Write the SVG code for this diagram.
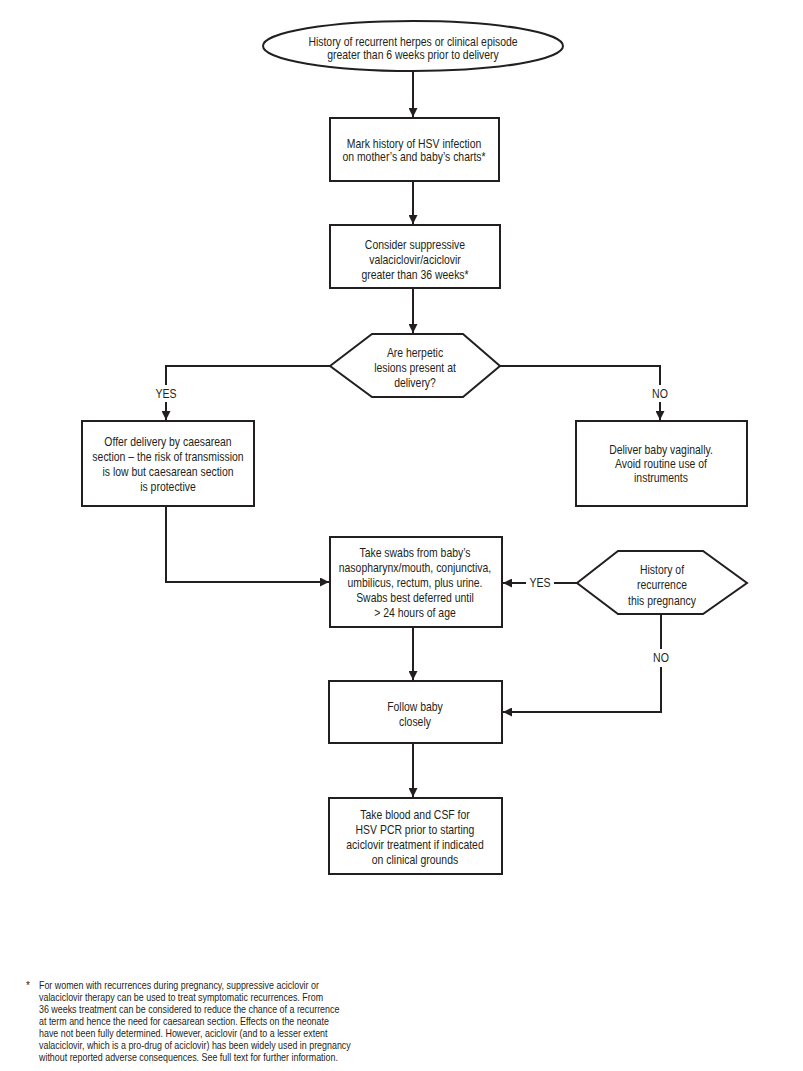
<svg xmlns="http://www.w3.org/2000/svg" width="803" height="1071" viewBox="0 0 803 1071">
<style>
.n{fill:#fff;stroke:#231f20;stroke-width:2}
.c{fill:none;stroke:#231f20;stroke-width:2}
text{font-family:"Liberation Sans",Arial,sans-serif;font-size:12px;fill:#231f20;text-anchor:middle}
.f{font-size:10px;text-anchor:start}
</style>
<defs>
<marker id="ah" markerUnits="userSpaceOnUse" markerWidth="10" markerHeight="9" refX="9" refY="4.5" orient="auto">
<path d="M0,0 L9,4.5 L0,9 z" fill="#231f20"/>
</marker>
</defs>
<rect width="803" height="1071" fill="#fff"/>
<g id="connectors">
<line class="c" x1="413" y1="71" x2="413" y2="117" marker-end="url(#ah)"/>
<line class="c" x1="413" y1="182" x2="413" y2="224" marker-end="url(#ah)"/>
<line class="c" x1="413" y1="289" x2="413" y2="333" marker-end="url(#ah)"/>
<path class="c" d="M330,366 H166 V385"/>
<line class="c" x1="166" y1="402" x2="166" y2="420" marker-end="url(#ah)"/>
<path class="c" d="M500,366 H660 V385"/>
<line class="c" x1="660" y1="402" x2="660" y2="420" marker-end="url(#ah)"/>
<path class="c" d="M166,507 V582 H329" marker-end="url(#ah)"/>
<line class="c" x1="577" y1="583" x2="554" y2="583"/>
<line class="c" x1="526" y1="583" x2="503" y2="583" marker-end="url(#ah)"/>
<path class="c" d="M661,614 V649"/>
<path class="c" d="M661,667 V712 H503" marker-end="url(#ah)"/>
<line class="c" x1="413" y1="628" x2="413" y2="680" marker-end="url(#ah)"/>
<line class="c" x1="413" y1="744" x2="413" y2="797" marker-end="url(#ah)"/>
<g transform="translate(166,0) scale(0.88,1)"><text x="0" y="398">YES</text></g>
<g transform="translate(660,0) scale(0.88,1)"><text x="0" y="398">NO</text></g>
<g transform="translate(540,0) scale(0.88,1)"><text x="0" y="587">YES</text></g>
<g transform="translate(661,0) scale(0.88,1)"><text x="0" y="662">NO</text></g>
</g>
<g id="start">
<ellipse class="n" cx="413" cy="46" rx="150" ry="25"/>
<g transform="translate(413,0) scale(0.87,1)">
<text x="0" y="46">History of recurrent herpes or clinical episode</text>
<text x="0" y="59">greater than 6 weeks prior to delivery</text>
</g>
</g>
<g id="mark">
<rect class="n" x="330" y="118" width="169" height="63"/>
<g transform="translate(414,0) scale(0.87,1)">
<text x="0" y="148">Mark history of HSV infection</text>
<text x="0" y="161">on mother’s and baby’s charts*</text>
</g>
</g>
<g id="consider">
<rect class="n" x="330" y="225" width="170" height="63"/>
<g transform="translate(415,0) scale(0.87,1)">
<text x="0" y="249">Consider suppressive</text>
<text x="0" y="264">valaciclovir/aciclovir</text>
<text x="0" y="279">greater than 36 weeks*</text>
</g>
</g>
<g id="lesions">
<polygon class="n" points="330,366 372,334 463,334 500,366 463,397 372,397"/>
<g transform="translate(415,0) scale(0.87,1)">
<text x="0" y="357">Are herpetic</text>
<text x="0" y="372">lesions present at</text>
<text x="0" y="387">delivery?</text>
</g>
</g>
<g id="caesarean">
<rect class="n" x="82" y="421" width="172" height="85"/>
<g transform="translate(168,0) scale(0.87,1)">
<text x="0" y="446">Offer delivery by caesarean</text>
<text x="0" y="461">section – the risk of transmission</text>
<text x="0" y="476">is low but caesarean section</text>
<text x="0" y="491">is protective</text>
</g>
</g>
<g id="vaginal">
<rect class="n" x="576" y="421" width="171" height="85"/>
<g transform="translate(661,0) scale(0.87,1)">
<text x="0" y="454">Deliver baby vaginally.</text>
<text x="0" y="468">Avoid routine use of</text>
<text x="0" y="482">instruments</text>
</g>
</g>
<g id="swabs">
<rect class="n" x="330" y="537" width="172" height="90"/>
<g transform="translate(415,0) scale(0.87,1)">
<text x="0" y="557">Take swabs from baby’s</text>
<text x="0" y="572">nasopharynx/mouth, conjunctiva,</text>
<text x="0" y="587">umbilicus, rectum, plus urine.</text>
<text x="0" y="602">Swabs best deferred until</text>
<text x="0" y="617">&gt; 24 hours of age</text>
</g>
</g>
<g id="recurrence">
<polygon class="n" points="577,583 618,551 703,551 747,583 703,614 618,614"/>
<g transform="translate(662,0) scale(0.87,1)">
<text x="0" y="574">History of</text>
<text x="0" y="589">recurrence</text>
<text x="0" y="605">this pregnancy</text>
</g>
</g>
<g id="follow">
<rect class="n" x="329" y="681" width="173" height="62"/>
<g transform="translate(415,0) scale(0.87,1)">
<text x="0" y="711">Follow baby</text>
<text x="0" y="726">closely</text>
</g>
</g>
<g id="blood">
<rect class="n" x="329" y="798" width="173" height="76"/>
<g transform="translate(415,0) scale(0.87,1)">
<text x="0" y="819">Take blood and CSF for</text>
<text x="0" y="834">HSV PCR prior to starting</text>
<text x="0" y="849">aciclovir treatment if indicated</text>
<text x="0" y="864">on clinical grounds</text>
</g>
</g>
<g id="footnote">
<text class="f" x="26" y="989">*</text>
<g transform="translate(39,0) scale(0.89,1)">
<text class="f" x="0" y="989">For women with recurrences during pregnancy, suppressive aciclovir or</text>
<text class="f" x="0" y="1001">valaciclovir therapy can be used to treat symptomatic recurrences. From</text>
<text class="f" x="0" y="1013">36 weeks treatment can be considered to reduce the chance of a recurrence</text>
<text class="f" x="0" y="1025">at term and hence the need for caesarean section. Effects on the neonate</text>
<text class="f" x="0" y="1037">have not been fully determined. However, aciclovir (and to a lesser extent</text>
<text class="f" x="0" y="1049">valaciclovir, which is a pro-drug of aciclovir) has been widely used in pregnancy</text>
<text class="f" x="0" y="1061">without reported adverse consequences. See full text for further information.</text>
</g>
</g>
</svg>
